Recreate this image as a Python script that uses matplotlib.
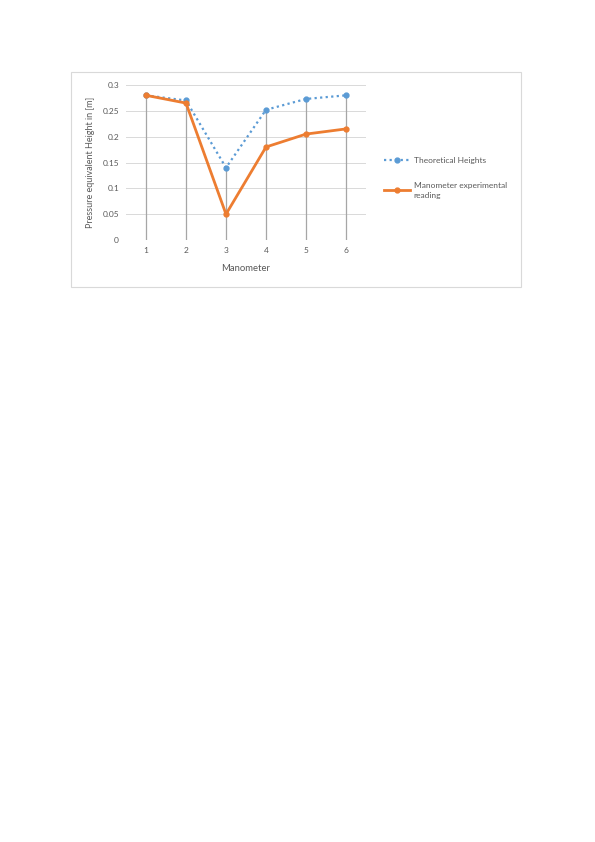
import matplotlib.pyplot as plt
from matplotlib.patches import Rectangle

plt.rcParams['font.family'] = ['Lato', 'DejaVu Sans']

manometer = [1, 2, 3, 4, 5, 6]
theoretical = [0.28, 0.27, 0.14, 0.252, 0.273, 0.28]
experimental = [0.28, 0.265, 0.05, 0.18, 0.205, 0.215]
y_ticks = [0, 0.05, 0.1, 0.15, 0.2, 0.25, 0.3]
y_labels = ['0', '0.05', '0.1', '0.15', '0.2', '0.25', '0.3']

W, H = 595, 842
fig = plt.figure(figsize=(5.95, 8.42), dpi=100)

# chart frame
fig.patches.append(Rectangle((71 / W, 1 - 287 / H), 450 / W, 215 / H,
                             transform=fig.transFigure, fill=False,
                             edgecolor='#d9d9d9', linewidth=0.8))

ax = fig.add_axes([126 / W, 1 - 240 / H, 240 / W, 155 / H])
ax.set_xlim(0.5, 6.5)
ax.set_ylim(0, 0.3)

# drop lines
for x, a, b in zip(manometer, theoretical, experimental):
    ax.plot([x, x], [0, max(a, b)], color='#a6a6a6', lw=0.9, zorder=1)

ax.plot(manometer, theoretical, color='#5b9bd5', lw=1.6, ls=(0, (1, 1.5)),
        marker='o', ms=3.5, label='Theoretical Heights', zorder=3)
ax.plot(manometer, experimental, color='#ed7d31', lw=2, marker='o', ms=3.5,
        label='Manometer experimental\nreading', zorder=4)

ax.set_yticks(y_ticks)
ax.set_yticklabels(y_labels)
ax.set_xticks(manometer)
ax.grid(axis='y', color='#d9d9d9', lw=0.7)
ax.set_axisbelow(True)
for s in ax.spines.values():
    s.set_visible(False)
ax.tick_params(length=0, labelsize=6, labelcolor='#595959', pad=5)
ax.set_xlabel('Manometer', fontsize=6.8, color='#595959', labelpad=7)
ax.set_ylabel('Pressure equivalent Height in [m]', fontsize=6.5, color='#595959',
              labelpad=5)

leg = fig.legend(loc='upper left', bbox_to_anchor=(376 / W, 1 - 149 / H),
                 frameon=False, fontsize=6, labelcolor='#595959',
                 handlelength=3.2, labelspacing=2.2, handletextpad=0.4)
for t in leg.get_texts():
    t.set_linespacing(1.5)

fig.savefig('out.png', dpi=100)
